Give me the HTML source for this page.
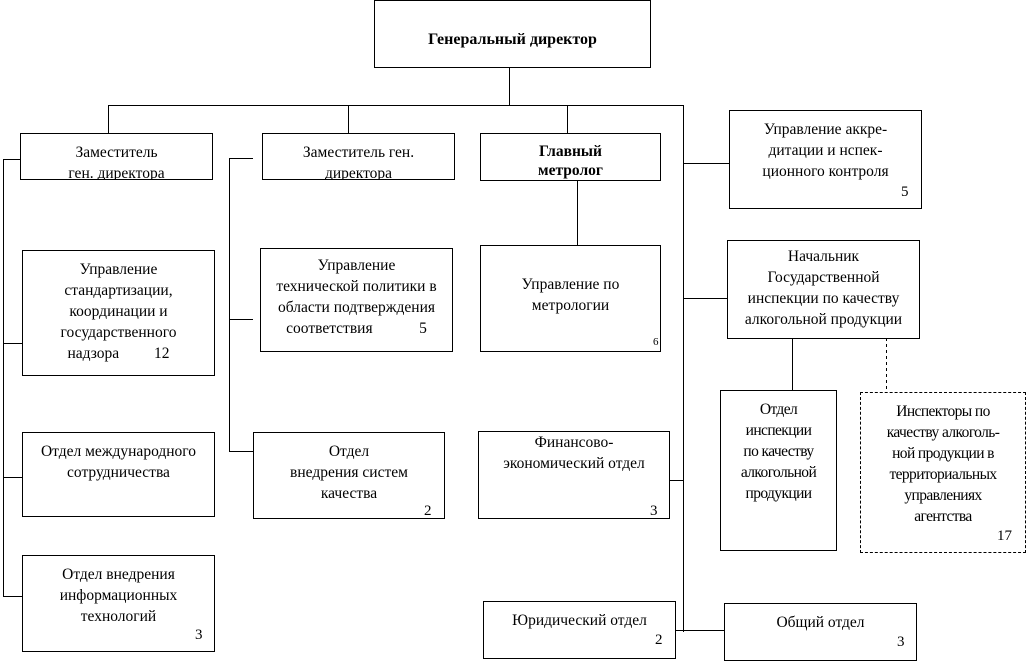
<!DOCTYPE html>
<html><head><meta charset="utf-8"><style>
body{margin:0;width:1026px;height:662px;background:#fff;position:relative;overflow:hidden;font-family:"Liberation Serif","DejaVu Serif",serif;font-size:15.5px;color:#000}
.b{position:absolute;border:1px solid #000;box-sizing:border-box;background:#fff;text-align:center;line-height:21px;overflow:hidden;white-space:nowrap}
.n{position:absolute;font-size:15px}
svg{position:absolute;left:0;top:0}
</style></head><body>
<svg width="1026" height="662">
<g stroke="#000" stroke-width="1" fill="none">
<line x1="509.5" y1="67" x2="509.5" y2="105"/>
<line x1="108" y1="105.5" x2="684" y2="105.5"/>
<line x1="108.5" y1="105" x2="108.5" y2="133"/>
<line x1="348.5" y1="105" x2="348.5" y2="133"/>
<line x1="567.5" y1="105" x2="567.5" y2="133"/>
<line x1="683.5" y1="105" x2="683.5" y2="632"/>
<line x1="3.5" y1="159" x2="3.5" y2="597"/>
<line x1="3" y1="159.5" x2="25" y2="159.5"/>
<line x1="3" y1="343.5" x2="22" y2="343.5"/>
<line x1="3" y1="477.5" x2="22" y2="477.5"/>
<line x1="3" y1="596.5" x2="22" y2="596.5"/>
<line x1="229.5" y1="158" x2="229.5" y2="452"/>
<line x1="229" y1="158.5" x2="253" y2="158.5"/>
<line x1="229" y1="319.5" x2="253" y2="319.5"/>
<line x1="229" y1="451.5" x2="253" y2="451.5"/>
<line x1="577.5" y1="180" x2="577.5" y2="250"/>
<line x1="669" y1="480.5" x2="683" y2="480.5"/>
<line x1="675" y1="630.5" x2="724" y2="630.5"/>
<line x1="683" y1="163.5" x2="729" y2="163.5"/>
<line x1="683" y1="298.5" x2="727" y2="298.5"/>
<line x1="792.5" y1="338" x2="792.5" y2="390"/>
<line x1="886.5" y1="338" x2="886.5" y2="392" stroke-dasharray="3,3"/>
</g></svg>

<div class="b" style="left:374px;top:0;width:277px;height:68px;line-height:78px;font-weight:bold;font-size:16px">Генеральный директор</div>

<div class="b" style="left:20px;top:133px;width:193px;height:47px;padding-top:8px">Заместитель<br>ген. директора</div>
<div class="b" style="left:262px;top:133px;width:193px;height:47px;padding-top:8px">Заместитель ген.<br>директора</div>
<div class="b" style="left:480px;top:133px;width:181px;height:48px;padding-top:8px;line-height:19px;font-weight:bold">Главный<br>метролог</div>

<div class="b" style="left:729px;top:110px;width:193px;height:99px;padding-top:8px">Управление аккре-<br>дитации и нспек-<br>ционного контроля</div>
<div class="n" style="left:901px;top:184px">5</div>
<div class="b" style="left:727px;top:240px;width:193px;height:99px;padding-top:5px">Начальник<br>Государственной<br>инспекции по качеству<br>алкогольной продукции</div>

<div class="b" style="left:22px;top:250px;width:193px;height:126px;padding-top:8px">Управление<br>стандартизации,<br>координации и<br>государственного<br>надзора &nbsp;&nbsp;&nbsp;&nbsp;&nbsp;&nbsp;&nbsp;&nbsp;12</div>
<div class="b" style="left:260px;top:248px;width:193px;height:104px;padding-top:6px">Управление<br>технической политики в<br>области подтверждения<br>соответствия &nbsp;&nbsp;&nbsp;&nbsp;&nbsp;&nbsp;&nbsp;&nbsp;&nbsp;&nbsp;&nbsp;5</div>
<div class="b" style="left:480px;top:245px;width:181px;height:107px;padding-top:28px">Управление по<br>метрологии</div>
<div class="n" style="left:653px;top:336px;font-size:11px">6</div>

<div class="b" style="left:22px;top:432px;width:193px;height:85px;padding-top:8px">Отдел международного<br>сотрудничества</div>
<div class="b" style="left:253px;top:432px;width:192px;height:87px;padding-top:8px">Отдел<br>внедрения систем<br>качества</div>
<div class="n" style="left:424px;top:503px">2</div>
<div class="b" style="left:478px;top:431px;width:192px;height:88px;padding-top:0">Финансово-<br>экономический отдел</div>
<div class="n" style="left:650px;top:503px">3</div>

<div class="b" style="left:720px;top:390px;width:117px;height:161px;padding-top:8px;letter-spacing:-0.6px">Отдел<br>инспекции<br>по качеству<br>алкогольной<br>продукции</div>
<div class="b" style="left:860px;top:392px;width:166px;height:161px;border-style:dashed;padding-top:8px;letter-spacing:-0.6px">Инспекторы по<br>качеству алкоголь-<br>ной продукции в<br>территориальных<br>управлениях<br>агентства</div>
<div class="n" style="left:997px;top:528px">17</div>

<div class="b" style="left:22px;top:555px;width:193px;height:97px;padding-top:8px">Отдел внедрения<br>информационных<br>технологий</div>
<div class="n" style="left:195px;top:627px">3</div>
<div class="b" style="left:483px;top:601px;width:193px;height:58px;padding-top:8px">Юридический отдел</div>
<div class="n" style="left:655px;top:632px">2</div>
<div class="b" style="left:724px;top:603px;width:193px;height:58px;padding-top:8px">Общий отдел</div>
<div class="n" style="left:897px;top:634px">3</div>
</body></html>
